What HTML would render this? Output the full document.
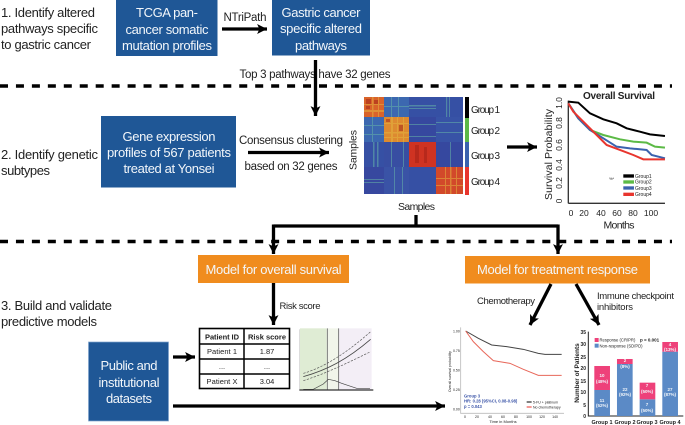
<!DOCTYPE html>
<html><head><meta charset="utf-8">
<style>
html,body{margin:0;padding:0;background:#fff;width:685px;height:425px;overflow:hidden}
svg{display:block;filter:blur(.35px)}
text{font-family:"Liberation Sans",sans-serif;fill:#222}
.w{fill:#f2f6fa;text-anchor:middle;font-size:13px}
.m{text-anchor:middle}
.b{fill:#f2f6fa;text-anchor:middle;font-size:4.500px;font-weight:bold}
.e{text-anchor:end}
</style></head><body>
<svg width="685" height="425" viewBox="0 0 685 425" xmlns="http://www.w3.org/2000/svg">
<defs>
<marker id="a" markerWidth="3" markerHeight="3" refX="3" refY="1.500" orient="auto"><path d="M0 0L3 1.500L0 3L.7 1.500Z" fill="#000"/></marker>
</defs>
<!-- dashed separators -->
<line x1="0" y1="86" x2="672" y2="86" stroke="#000" stroke-width="3.400" stroke-dasharray="8 7.950"/>
<line x1="0" y1="241.500" x2="672" y2="241.500" stroke="#000" stroke-width="3.400" stroke-dasharray="8 7.950"/>

<!-- left labels -->
<text x="1" y="17" font-size="13" textLength="94">1. Identify altered</text>
<text x="1" y="33" font-size="13" textLength="97">pathways specific</text>
<text x="1" y="49" font-size="13" textLength="90">to gastric cancer</text>
<text x="1" y="159" font-size="13" textLength="97">2. Identify genetic</text>
<text x="1" y="175" font-size="13" textLength="49">subtypes</text>
<text x="1" y="310" font-size="13" textLength="111">3. Build and validate</text>
<text x="1" y="326" font-size="13" textLength="96">predictive models</text>

<!-- blue boxes -->
<rect x="116" y="-1" width="101.500" height="57" fill="#1f5796"/>
<rect x="272" y="-1" width="98" height="56.500" fill="#1f5796"/>
<rect x="101" y="116" width="135" height="71.500" fill="#1f5796"/>
<rect x="88.500" y="342" width="80" height="79" fill="#1f5796" stroke="#7fa3cc" stroke-width=".7"/>
<text class="w" x="167" y="17" textLength="62">TCGA pan-</text>
<text class="w" x="167" y="34" textLength="83">cancer somatic</text>
<text class="w" x="167" y="50" textLength="90">mutation profiles</text>
<text class="w" x="321" y="17" textLength="79">Gastric cancer</text>
<text class="w" x="321" y="33" textLength="82">specific altered</text>
<text class="w" x="321" y="50" textLength="52">pathways</text>
<text class="w" x="169" y="141" textLength="93">Gene expression</text>
<text class="w" x="169" y="157" textLength="124">profiles of 567 patients</text>
<text class="w" x="169" y="173" textLength="91">treated at Yonsei</text>
<text class="w" x="129" y="370" textLength="57">Public and</text>
<text class="w" x="129" y="387" textLength="61">institutional</text>
<text class="w" x="129" y="403" textLength="46">datasets</text>

<!-- orange boxes -->
<rect x="198" y="255" width="151" height="28" fill="#f08c1e"/>
<rect x="465" y="256" width="185" height="27.500" fill="#f08c1e"/>
<text class="w" x="273.500" y="274" textLength="136">Model for overall survival</text>
<text class="w" x="557.500" y="274" textLength="161">Model for treatment response</text>

<!-- arrow labels -->
<text class="m" x="245" y="21" font-size="11.500" textLength="43">NTriPath</text>
<text class="m" x="315" y="78" font-size="11.500" textLength="151">Top 3 pathways have 32 genes</text>
<text class="m" x="291" y="144" font-size="11.500" textLength="104">Consensus clustering</text>
<text class="m" x="291" y="170" font-size="11.500" textLength="93">based on 32 genes</text>
<text x="279.500" y="309" font-size="9.500" textLength="41">Risk score</text>
<text x="477" y="304" font-size="9.500" textLength="58">Chemotherapy</text>
<text x="597" y="299" font-size="9.500" textLength="77">Immune checkpoint</text>
<text x="597" y="310" font-size="9.500" textLength="36">inhibitors</text>

<!-- arrows -->
<g fill="none" stroke="#000" stroke-width="3.300">
<line x1="222" y1="29" x2="267" y2="29" marker-end="url(#a)"/>
<line x1="315.500" y1="60" x2="315.500" y2="116" marker-end="url(#a)"/>
<line x1="248" y1="152.500" x2="329" y2="152.500" marker-end="url(#a)"/>
<line x1="507" y1="147" x2="537" y2="147" marker-end="url(#a)"/>
<path d="M416 215V226M273.500 226H558"/>
<line x1="273.500" y1="224.500" x2="273.500" y2="254" marker-end="url(#a)"/>
<line x1="558" y1="224.500" x2="558" y2="254" marker-end="url(#a)"/>
<line x1="273.500" y1="283" x2="273.500" y2="325" marker-end="url(#a)"/>
<line x1="173" y1="357" x2="195" y2="357" marker-end="url(#a)"/>
<line x1="173" y1="406" x2="445" y2="406" marker-end="url(#a)"/>
<line x1="551" y1="284" x2="530" y2="325" marker-end="url(#a)"/>
<line x1="576" y1="284" x2="599" y2="325" marker-end="url(#a)"/>
</g>

<!-- heatmap -->
<g>
<rect x="364" y="97" width="99" height="97" fill="#36489f"/>
<rect x="364" y="97" width="20" height="20" fill="#d9632a"/>
<rect x="384" y="117" width="25" height="25" fill="#dd8a30"/>
<rect x="409" y="142" width="27" height="25" fill="#cf3322"/>
<rect x="436" y="167" width="27" height="27" fill="#d2492a"/>
<rect x="384" y="97" width="25" height="20" fill="#3c68b0"/>
<rect x="364" y="117" width="20" height="25" fill="#3c68b0"/>
<rect x="409" y="97" width="27" height="20" fill="#3650a4"/>
<rect x="436" y="97" width="27" height="20" fill="#3650a4"/>
<rect x="436" y="117" width="27" height="25" fill="#3853a6"/>
<rect x="364" y="142" width="20" height="25" fill="#3650a4"/>
<rect x="384" y="142" width="25" height="25" fill="#384ea2"/>
<rect x="436" y="142" width="27" height="25" fill="#36489f"/>
<rect x="364" y="167" width="20" height="27" fill="#37489f"/>
<rect x="384" y="167" width="25" height="27" fill="#3a53a6"/>
<rect x="409" y="167" width="27" height="27" fill="#3650a4"/>
<rect x="409" y="117" width="27" height="25" fill="#36489f"/>
<g fill="#e3b440" opacity=".55">
<rect x="372" y="97" width="1.500" height="20"/><rect x="378" y="97" width="1" height="20"/><rect x="364" y="104" width="20" height="1"/><rect x="364" y="110" width="20" height="2"/>
<rect x="391" y="117" width="2" height="25"/><rect x="397" y="117" width="1" height="25"/><rect x="403" y="117" width="1" height="25"/><rect x="384" y="123" width="25" height="1"/><rect x="384" y="132" width="25" height="1.500"/><rect x="384" y="137" width="25" height="1"/>
<rect x="445" y="167" width="1" height="27"/><rect x="450" y="167" width="1.500" height="27"/><rect x="456" y="167" width="1" height="27"/><rect x="436" y="178" width="27" height="1"/><rect x="436" y="185" width="27" height="1"/>
</g>
<g fill="#a02018" opacity=".5">
<rect x="366" y="99" width="5" height="5"/><rect x="374" y="100" width="4" height="4"/><rect x="366" y="106" width="4" height="3"/>
<rect x="386" y="119" width="4" height="3"/><rect x="399" y="125" width="4" height="6"/>
<rect x="415" y="145" width="4" height="18"/><rect x="424" y="147" width="3" height="16"/>
</g>
<g fill="#67b3a8" opacity=".55">
<rect x="373" y="142" width="1.500" height="25"/><rect x="377" y="142" width="1.500" height="25"/><rect x="391" y="142" width="1" height="25"/><rect x="403" y="142" width="1" height="25"/>
<rect x="364" y="179" width="20" height="1"/><rect x="364" y="182" width="20" height="1"/>
<rect x="409" y="105" width="27" height="1.500"/><rect x="409" y="108" width="27" height="1"/>
<rect x="446" y="97" width="1.200" height="20"/><rect x="449" y="97" width="1" height="20"/>
<rect x="436" y="122" width="27" height="1"/><rect x="436" y="132" width="27" height="1"/>
<rect x="409" y="124" width="27" height="1"/><rect x="409" y="136" width="27" height="1"/>
<rect x="391" y="97" width="1" height="20"/><rect x="398" y="97" width="1" height="20"/><rect x="384" y="106" width="25" height="1"/>
<rect x="364" y="125" width="20" height="1"/><rect x="364" y="134" width="20" height="1"/><rect x="372" y="117" width="1" height="25"/>
<rect x="394" y="167" width="1" height="27"/><rect x="402" y="167" width="1" height="27"/><rect x="450" y="142" width="1" height="25"/>
</g>
<rect x="465" y="97" width="4" height="21" fill="#000"/>
<rect x="465" y="118" width="4" height="24" fill="#5cb848"/>
<rect x="465" y="142" width="4" height="25" fill="#3b62ae"/>
<rect x="465" y="167" width="4" height="28" fill="#e8352e"/>
<text x="471" y="113" font-size="10" textLength="29">Group 1</text>
<text x="471" y="134" font-size="10" textLength="29">Group 2</text>
<text x="471" y="159" font-size="10" textLength="29">Group 3</text>
<text x="471" y="185" font-size="10" textLength="29">Group 4</text>
<text x="398" y="210" font-size="10.500" textLength="37">Samples</text>
<text transform="translate(356.500 170) rotate(-90)" font-size="10.500" textLength="40">Samples</text>
</g>

<!-- overall survival -->
<g transform="translate(340 90) scale(.3333)" fill="none" stroke-width="6">
<path d="M685 32V340M685 340H975" stroke="#333" stroke-width="4"/>
<path d="M685 35L715 38L750 70L790 88L830 100L860 115L900 125L930 133L975 138" stroke="#000"/>
<path d="M685 40L715 85L750 120L790 135L840 148L880 155L920 158L945 170L975 173" stroke="#5cba46"/>
<path d="M685 40L715 85L750 120L790 145L830 170L870 175L920 180L935 195L975 205" stroke="#3b62ae"/>
<path d="M685 40L700 65L735 100L770 135L800 165L840 180L880 195L910 208L975 208" stroke="#e8352e"/>
<path d="M850 258H882" stroke="#000" stroke-width="10"/>
<path d="M850 276H882" stroke="#5cba46" stroke-width="10"/>
<path d="M850 294H882" stroke="#3b62ae" stroke-width="10"/>
<path d="M850 313H882" stroke="#e8352e" stroke-width="10"/>
</g>
<text x="583" y="99" font-size="10" font-weight="bold" textLength="72">Overall Survival</text>
<g font-size="5"><text x="635" y="178">Group1</text><text x="635" y="183.500">Group2</text><text x="635" y="190">Group3</text><text x="635" y="196">Group4</text></g>
<text x="609" y="180" font-size="4">%*</text>
<text transform="translate(552 200) rotate(-90)" font-size="10.500" textLength="91">Survival Probability</text>
<g font-size="8.500" text-anchor="middle">
<text transform="translate(562 201) rotate(-90)">0</text>
<text transform="translate(562 183) rotate(-90)">0.2</text>
<text transform="translate(562 165) rotate(-90)">0.4</text>
<text transform="translate(562 145) rotate(-90)">0.6</text>
<text transform="translate(562 123) rotate(-90)">0.8</text>
<text transform="translate(562 103) rotate(-90)">1.0</text>
</g>
<g font-size="8.500">
<text class="m" x="571" y="216">0</text><text class="m" x="584" y="216">20</text><text class="m" x="601" y="216">40</text><text class="m" x="617" y="216">60</text><text class="m" x="633" y="216">80</text><text class="m" x="651" y="216">100</text>
</g>
<text class="m" x="619" y="228.500" font-size="10.500" textLength="31">Months</text>

<!-- table -->
<g>
<rect x="199.500" y="328.500" width="90" height="60" fill="#fff" stroke="#000" stroke-width="1.600"/>
<path d="M244 328V389M199 344H290M199 359H290M199 374H290" stroke="#000" stroke-width="1.500"/>
<g font-size="7.500">
<text class="m" x="222" y="339.500" font-weight="bold" textLength="34">Patient ID</text>
<text class="m" x="267" y="339.500" font-weight="bold" textLength="38">Risk score</text>
<text class="m" x="222" y="354" textLength="30">Patient 1</text><text class="m" x="267" y="354">1.87</text>
<text class="m" x="222" y="369">...</text><text class="m" x="267" y="369">...</text>
<text class="m" x="222" y="384" textLength="31">Patient X</text><text class="m" x="267" y="384">3.04</text>
</g>
</g>

<!-- risk plot -->
<g transform="translate(160 310) scale(.3333)" fill="none">
<rect x="420" y="55" width="80" height="185" fill="#dfecd4"/>
<rect x="500" y="55" width="35" height="185" fill="#f1f5ea"/>
<rect x="535" y="55" width="100" height="185" fill="#f3eef6"/>
<path d="M502 55V240M536 55V240" stroke="#666" stroke-width="2.500"/>
<path d="M430 200C500 180 560 150 632 88" stroke="#444" stroke-width="2.500"/>
<path d="M430 190C500 170 570 120 632 65" stroke="#555" stroke-width="2" stroke-dasharray="7 4"/>
<path d="M430 212C500 190 570 155 632 125" stroke="#555" stroke-width="2" stroke-dasharray="7 4"/>
<path d="M430 238H460L490 222L505 208L525 212L545 220L590 235H630" stroke="#444" stroke-width="2"/>
<path d="M418 240H640" stroke="#333" stroke-width="4"/>
<path d="M418 58V240" stroke="#bbb" stroke-width="1.500"/>
</g>

<!-- treatment KM -->
<g transform="translate(420 310) scale(.3333)" fill="none">
<path d="M122 52V310H432" stroke="#bbb" stroke-width="2.500"/>
<path d="M137 63L175 85L215 105L260 110L310 118L355 130L375 133H425" stroke="#444" stroke-width="3"/>
<path d="M137 63L160 95L190 125L220 152L270 160L310 178L355 196H425" stroke="#e8675a" stroke-width="3"/>
<path d="M320 276H335" stroke="#000" stroke-width="3"/>
<path d="M320 291H335" stroke="#e8352e" stroke-width="3"/>
<path d="M505 65V318H790" stroke="#222" stroke-width="3"/>
<g stroke="none">
<rect x="523" y="240" width="47" height="78" fill="#5b8ac6"/><rect x="523" y="168" width="47" height="72" fill="#ee417a"/>
<rect x="591" y="162" width="47" height="156" fill="#5b8ac6"/><rect x="591" y="147" width="47" height="15" fill="#ee417a"/>
<rect x="659" y="268" width="47" height="50" fill="#5b8ac6"/><rect x="659" y="218" width="47" height="50" fill="#ee417a"/>
<rect x="727" y="125" width="47" height="193" fill="#5b8ac6"/><rect x="727" y="96" width="47" height="29" fill="#ee417a"/>
<rect x="524" y="84" width="12" height="12" fill="#ee417a"/><rect x="524" y="101" width="12" height="12" fill="#5b8ac6"/>
</g>
</g>
<g font-size="3.500">
<text x="453" y="332.500">1.00</text><text x="453" y="352">0.75</text><text x="453" y="371.500">0.50</text><text x="453" y="391">0.25</text><text x="453" y="410.500">0.00</text>
<text x="533" y="403.500">5-FU + platinum</text><text x="533" y="408.500">No chemotherapy</text>
<text class="m" x="503" y="423" font-size="4">Time in Months</text>
<text transform="translate(451 392) rotate(-90)">Overall survival probability</text>
<text class="m" x="465" y="418">0</text><text class="m" x="477" y="418">20</text><text class="m" x="490" y="418">40</text><text class="m" x="503" y="418">60</text><text class="m" x="516" y="418">80</text><text class="m" x="529" y="418">100</text><text class="m" x="542" y="418">120</text><text class="m" x="555" y="418">140</text>
</g>
<g font-size="4.200" font-weight="bold">
<text x="464" y="397.500" style="fill:#3c55a8">Group 3</text><text x="464" y="402.500" style="fill:#3c55a8">HR: 0.28 (95%CI, 0.08-0.98)</text><text x="464" y="408" style="fill:#3c55a8">p = 0.043</text>
</g>
<text x="599.500" y="341.500" font-size="4.200">Response (CR/PR)</text>
<text x="599.500" y="347.500" font-size="4.200">Non-response (SD/PD)</text>
<text x="640" y="341.500" font-size="4.500" font-weight="bold">p = 0.001</text>
<g font-size="5.500" font-weight="bold">
<text class="m" x="602" y="424">Group 1</text><text class="m" x="625" y="424">Group 2</text><text class="m" x="647" y="424">Group 3</text><text class="m" x="670" y="424">Group 4</text>
<text class="m" transform="translate(579 373) rotate(-90)" font-size="6.500">Number of Patients</text>
</g>
<g font-size="5" font-weight="bold">
<text class="e" x="586" y="334">35</text><text class="e" x="586" y="346">30</text><text class="e" x="586" y="359">25</text><text class="e" x="586" y="370">20</text><text class="e" x="586" y="383">15</text><text class="e" x="586" y="394">10</text><text class="e" x="586" y="407">5</text><text class="e" x="586" y="418">0</text>
</g>
<g>
<text class="b" x="602" y="377">10</text><text class="b" x="602" y="383">(48%)</text>
<text class="b" x="602" y="402">11</text><text class="b" x="602" y="407">(52%)</text>
<text class="b" x="625" y="362">2</text><text class="b" x="625" y="368">(8%)</text>
<text class="b" x="625" y="391">22</text><text class="b" x="625" y="396">(92%)</text>
<text class="b" x="647" y="387">7</text><text class="b" x="647" y="393">(50%)</text>
<text class="b" x="647" y="406">7</text><text class="b" x="647" y="412">(50%)</text>
<text class="b" x="670" y="346">4</text><text class="b" x="670" y="351">(13%)</text>
<text class="b" x="670" y="391">27</text><text class="b" x="670" y="396">(87%)</text>
</g>
</svg>
</body></html>
